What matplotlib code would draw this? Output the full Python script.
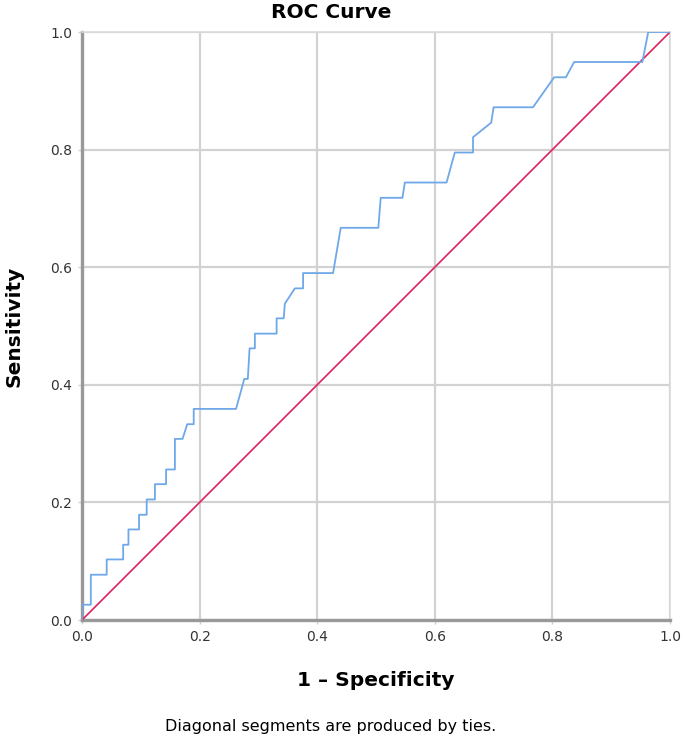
import matplotlib
matplotlib.use("Agg")
import matplotlib.pyplot as plt

# ROC points (1 - specificity, sensitivity)
fpr = [0.000, 0.000, 0.015, 0.015, 0.042, 0.042, 0.070, 0.070, 0.079, 0.079,
       0.097, 0.097, 0.110, 0.110, 0.124, 0.124, 0.143, 0.143, 0.158, 0.158,
       0.171, 0.179, 0.190, 0.190, 0.262, 0.276, 0.282, 0.285, 0.294, 0.294,
       0.331, 0.331, 0.343, 0.345, 0.362, 0.376, 0.376, 0.427, 0.440, 0.504,
       0.508, 0.545, 0.549, 0.620, 0.634, 0.665, 0.665, 0.696, 0.700, 0.767,
       0.803, 0.823, 0.837, 0.953, 0.963, 1.000]
tpr = [0.000, 0.026, 0.026, 0.077, 0.077, 0.103, 0.103, 0.128, 0.128, 0.154,
       0.154, 0.179, 0.179, 0.205, 0.205, 0.231, 0.231, 0.256, 0.256, 0.308,
       0.308, 0.333, 0.333, 0.359, 0.359, 0.410, 0.410, 0.462, 0.462, 0.487,
       0.487, 0.513, 0.513, 0.538, 0.564, 0.564, 0.590, 0.590, 0.667, 0.667,
       0.718, 0.718, 0.744, 0.744, 0.795, 0.795, 0.821, 0.846, 0.872, 0.872,
       0.923, 0.923, 0.949, 0.949, 1.000, 1.000]
ref_line = [0.0, 1.0]
ticks = [0.0, 0.2, 0.4, 0.6, 0.8, 1.0]

fig = plt.figure(figsize=(6.85, 7.44), dpi=100)
ax = fig.add_axes([82 / 685, 1 - 620 / 744, 588 / 685, 588 / 744])

ax.plot(ref_line, ref_line, color='#e0205a', lw=1.2, zorder=3)
ax.plot(fpr, tpr, color='#6fa8e8', lw=1.3, zorder=4)

ax.set_xlim(0, 1)
ax.set_ylim(0, 1)
ax.set_xticks(ticks)
ax.set_yticks(ticks)
ax.set_xticklabels(['%.1f' % t for t in ticks])
ax.set_yticklabels(['%.1f' % t for t in ticks])
ax.tick_params(length=3, width=1, color='#d0d0d0', labelsize=10,
               labelcolor='#333333', pad=4)
ax.grid(True, color='#d2d2d2', lw=1.6, zorder=0)

for side in ['top', 'right']:
    ax.spines[side].set_color('#dadada')
    ax.spines[side].set_linewidth(1.2)
for side in ['left', 'bottom']:
    ax.spines[side].set_color('#999999')
    ax.spines[side].set_linewidth(2.4)

ax.set_xlabel('1 – Specificity', fontsize=14.5, fontweight='bold', labelpad=20)
ax.set_ylabel('Sensitivity', fontsize=14.5, fontweight='bold', labelpad=19)

fig.text(331 / 685, 1 - 12 / 744, 'ROC Curve', fontsize=14.5, fontweight='bold',
         ha='center', va='center')
fig.text(331 / 685, 1 - 727 / 744, 'Diagonal segments are produced by ties.',
         fontsize=11.5, ha='center', va='center')

fig.savefig('out.png', dpi=100)
